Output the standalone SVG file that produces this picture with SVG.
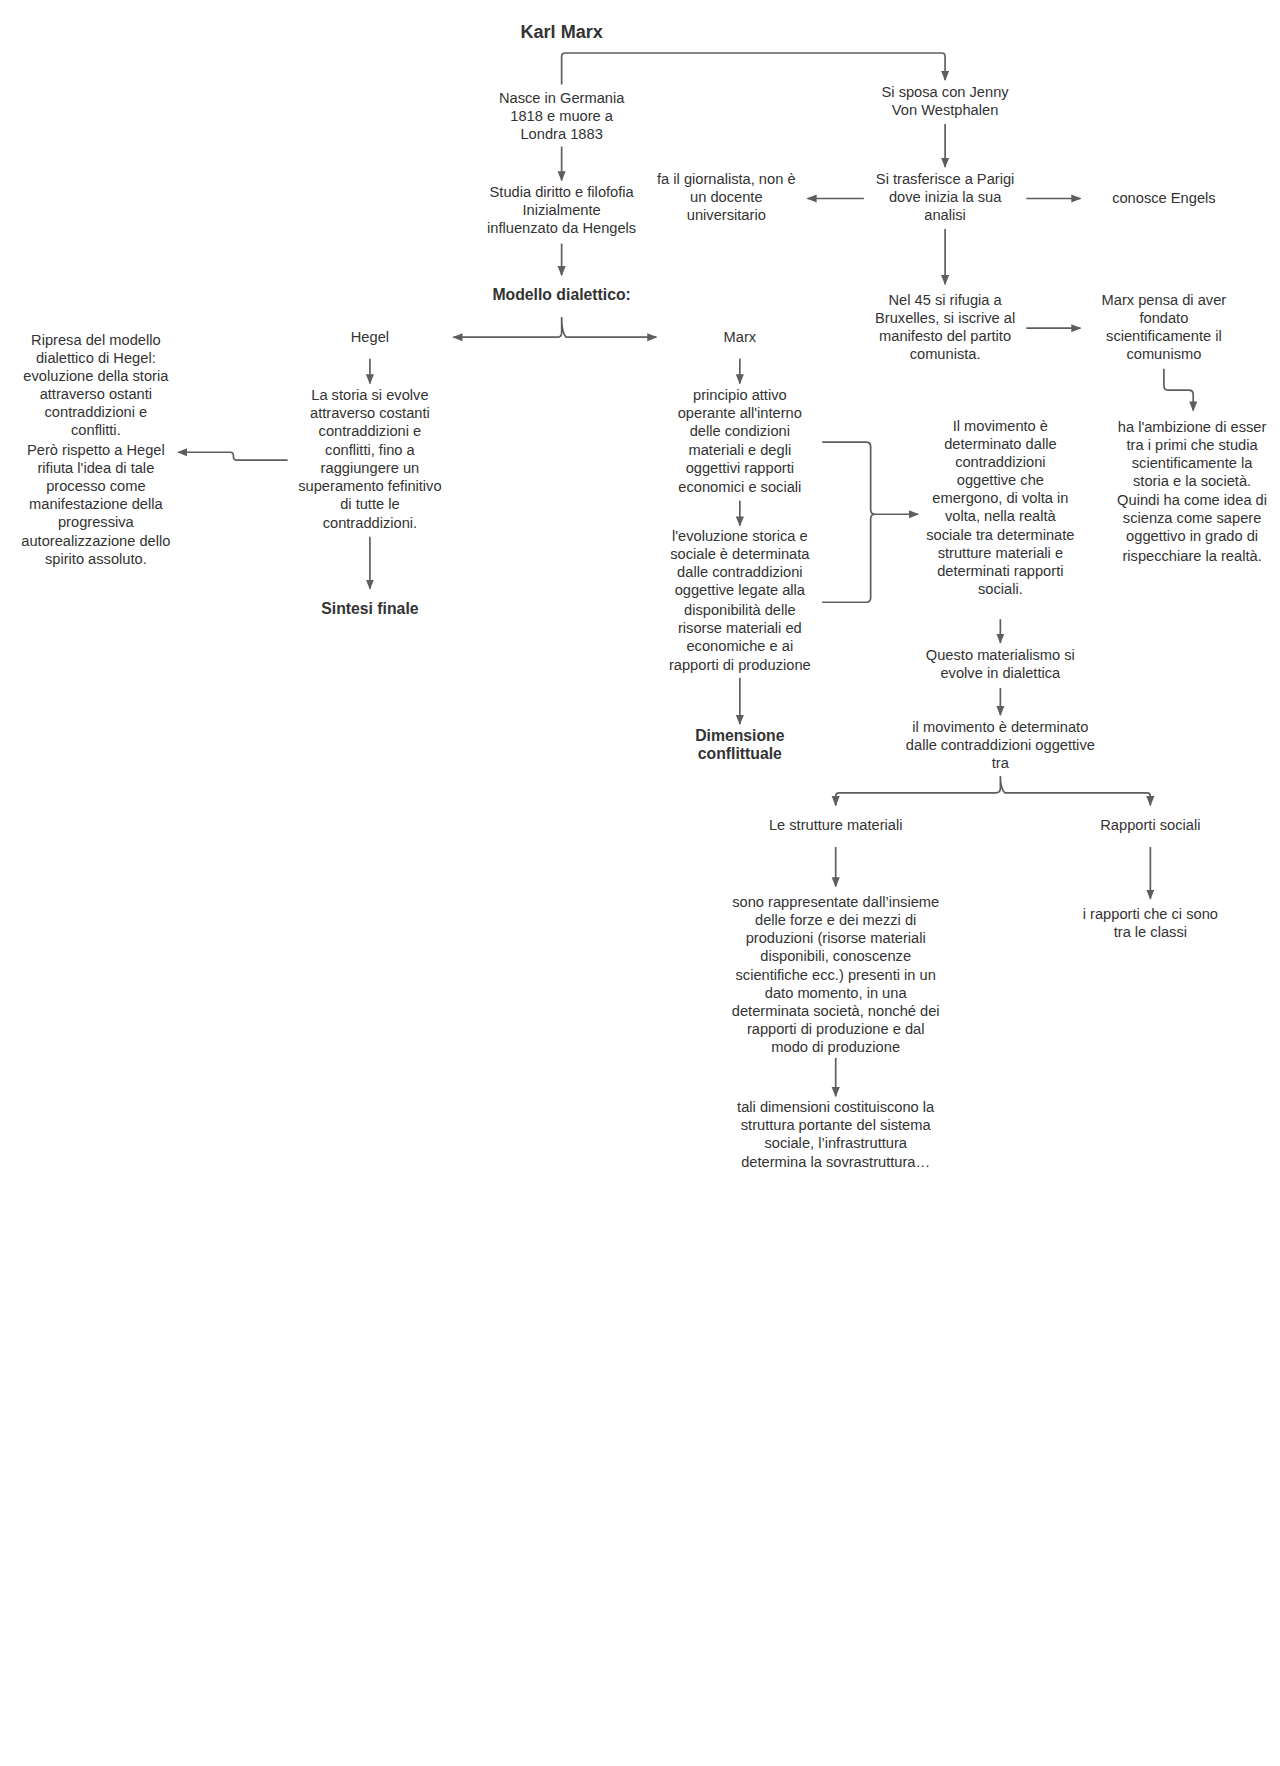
<svg xmlns="http://www.w3.org/2000/svg" width="1280" height="1766" viewBox="0 0 1280 1766">
<style>
text{font-family:"Liberation Sans",Arial,sans-serif;font-size:13px;fill:#333;text-anchor:middle}
.b{font-weight:bold;font-size:14px}
.t{font-weight:bold;font-size:16px}
#connectors path{fill:none;stroke:#5e5e5e;stroke-width:1.5}
</style>
<defs>
<marker id="a" viewBox="0 0 10 10" refX="9" refY="5" markerWidth="9" markerHeight="9" markerUnits="userSpaceOnUse" orient="auto-start-reverse"><path d="M0,1 L10,5 L0,9 z" fill="#5e5e5e"/></marker>
</defs>
<rect width="1280" height="1766" fill="#fff"/>
<g transform="scale(1.1278)">
<g id="connectors">
<path d="M498,75 V50 Q498,47 501,47 H835 Q838,47 838,50 V71" marker-end="url(#a)"/>
<path d="M498,130 V160" marker-end="url(#a)"/>
<path d="M838,110 V148" marker-end="url(#a)"/>
<path d="M766,176 H716" marker-end="url(#a)"/>
<path d="M910,176 H958" marker-end="url(#a)"/>
<path d="M498,216 V244" marker-end="url(#a)"/>
<path d="M838,203 V252" marker-end="url(#a)"/>
<path d="M910,291 H958" marker-end="url(#a)"/>
<path d="M402,299 H494 Q498,299 498,295 V281 Q498,295 502,299 H582" marker-start="url(#a)" marker-end="url(#a)"/>
<path d="M328,318 V340" marker-end="url(#a)"/>
<path d="M656,318 V340" marker-end="url(#a)"/>
<path d="M255,408 H210 Q207,408 207,405 V404 Q207,401 204,401 H158" marker-end="url(#a)"/>
<path d="M328,476 V522" marker-end="url(#a)"/>
<path d="M656,444 V466" marker-end="url(#a)"/>
<path d="M656,601 V642" marker-end="url(#a)"/>
<path d="M729,392 H768 Q772,392 772,396 V452 Q772,456 776,456"/>
<path d="M729,534 H768 Q772,534 772,530 V460 Q772,456 776,456 H814" marker-end="url(#a)"/>
<path d="M1032,327 V342 Q1032,346 1036,346 H1054 Q1058,346 1058,350 V364" marker-end="url(#a)"/>
<path d="M887,549 V570" marker-end="url(#a)"/>
<path d="M887,610 V634" marker-end="url(#a)"/>
<path d="M741,714 V706 Q741,703 744,703 H883 Q887,703 887,699 V688 Q887,699 891,703 H1017 Q1020,703 1020,706 V714" marker-end="url(#a)"/>
<path d="M741,714 V706" marker-start="url(#a)"/>
<path d="M741,751 V786" marker-end="url(#a)"/>
<path d="M1020,751 V797" marker-end="url(#a)"/>
<path d="M741,938 V972" marker-end="url(#a)"/>
</g>
<g id="n-karl"><text class="t" x="498" y="34">Karl Marx</text></g>
<g id="n-nasce"><text x="498" y="91">Nasce in Germania</text><text x="498" y="107">1818 e muore a</text><text x="498" y="123">Londra 1883</text></g>
<g id="n-sposa"><text x="838" y="86">Si sposa con Jenny</text><text x="838" y="102">Von Westphalen</text></g>
<g id="n-studia"><text x="498" y="175">Studia diritto e filofofia</text><text x="498" y="191">Inizialmente</text><text x="498" y="207">influenzato da Hengels</text></g>
<g id="n-giorn"><text x="644" y="163">fa il giornalista, non è</text><text x="644" y="179">un docente</text><text x="644" y="195">universitario</text></g>
<g id="n-parigi"><text x="838" y="163">Si trasferisce a Parigi</text><text x="838" y="179">dove inizia la sua</text><text x="838" y="195">analisi</text></g>
<g id="n-engels"><text x="1032" y="180">conosce Engels</text></g>
<g id="n-modello"><text class="b" x="498" y="266">Modello dialettico:</text></g>
<g id="n-nel45"><text x="838" y="270">Nel 45 si rifugia a</text><text x="838" y="286">Bruxelles, si iscrive al</text><text x="838" y="302">manifesto del partito</text><text x="838" y="318">comunista.</text></g>
<g id="n-pensa"><text x="1032" y="270">Marx pensa di aver</text><text x="1032" y="286">fondato</text><text x="1032" y="302">scientificamente il</text><text x="1032" y="318">comunismo</text></g>
<g id="n-hegel"><text x="328" y="303">Hegel</text></g>
<g id="n-marx"><text x="656" y="303">Marx</text></g>
<g id="n-ripresa"><text x="85" y="306">Ripresa del modello</text><text x="85" y="322">dialettico di Hegel:</text><text x="85" y="338">evoluzione della storia</text><text x="85" y="354">attraverso ostanti</text><text x="85" y="370">contraddizioni e</text><text x="85" y="386">conflitti.</text><text x="85" y="403">Però rispetto a Hegel</text><text x="85" y="419">rifiuta l'idea di tale</text><text x="85" y="435">processo come</text><text x="85" y="451">manifestazione della</text><text x="85" y="467">progressiva</text><text x="85" y="484">autorealizzazione dello</text><text x="85" y="500">spirito assoluto.</text></g>
<g id="n-storia"><text x="328" y="355">La storia si evolve</text><text x="328" y="371">attraverso costanti</text><text x="328" y="387">contraddizioni e</text><text x="328" y="403">conflitti, fino a</text><text x="328" y="419">raggiungere un</text><text x="328" y="435">superamento fefinitivo</text><text x="328" y="451">di tutte le</text><text x="328" y="468">contraddizioni.</text></g>
<g id="n-sintesi"><text class="b" x="328" y="544">Sintesi finale</text></g>
<g id="n-principio"><text x="656" y="355">principio attivo</text><text x="656" y="371">operante all'interno</text><text x="656" y="387">delle condizioni</text><text x="656" y="403">materiali e degli</text><text x="656" y="419">oggettivi rapporti</text><text x="656" y="436">economici e sociali</text></g>
<g id="n-evol"><text x="656" y="480">l'evoluzione storica e</text><text x="656" y="496">sociale è determinata</text><text x="656" y="512">dalle contraddizioni</text><text x="656" y="528">oggettive legate alla</text><text x="656" y="545">disponibilità delle</text><text x="656" y="561">risorse materiali ed</text><text x="656" y="577">economiche e ai</text><text x="656" y="594">rapporti di produzione</text></g>
<g id="n-dim"><text class="b" x="656" y="657">Dimensione</text><text class="b" x="656" y="673">conflittuale</text></g>
<g id="n-movimento"><text x="887" y="382">Il movimento è</text><text x="887" y="398">determinato dalle</text><text x="887" y="414">contraddizioni</text><text x="887" y="430">oggettive che</text><text x="887" y="446">emergono, di volta in</text><text x="887" y="462">volta, nella realtà</text><text x="887" y="479">sociale tra determinate</text><text x="887" y="495">strutture materiali e</text><text x="887" y="511">determinati rapporti</text><text x="887" y="527">sociali.</text></g>
<g id="n-ambizione"><text x="1057" y="383">ha l'ambizione di esser</text><text x="1057" y="399">tra i primi che studia</text><text x="1057" y="415">scientificamente la</text><text x="1057" y="431">storia e la società.</text><text x="1057" y="448">Quindi ha come idea di</text><text x="1057" y="464">scienza come sapere</text><text x="1057" y="480">oggettivo in grado di</text><text x="1057" y="497">rispecchiare la realtà.</text></g>
<g id="n-questo"><text x="887" y="585">Questo materialismo si</text><text x="887" y="601">evolve in dialettica</text></g>
<g id="n-ilmov"><text x="887" y="649">il movimento è determinato</text><text x="887" y="665">dalle contraddizioni oggettive</text><text x="887" y="681">tra</text></g>
<g id="n-strutture"><text x="741" y="736">Le strutture materiali</text></g>
<g id="n-rapporti"><text x="1020" y="736">Rapporti sociali</text></g>
<g id="n-sono"><text x="741" y="804">sono rappresentate dall’insieme</text><text x="741" y="820">delle forze e dei mezzi di</text><text x="741" y="836">produzioni (risorse materiali</text><text x="741" y="852">disponibili, conoscenze</text><text x="741" y="869">scientifiche ecc.) presenti in un</text><text x="741" y="885">dato momento, in una</text><text x="741" y="901">determinata società, nonché dei</text><text x="741" y="917">rapporti di produzione e dal</text><text x="741" y="933">modo di produzione</text></g>
<g id="n-classi"><text x="1020" y="815">i rapporti che ci sono</text><text x="1020" y="831">tra le classi</text></g>
<g id="n-tali"><text x="741" y="986">tali dimensioni costituiscono la</text><text x="741" y="1002">struttura portante del sistema</text><text x="741" y="1018">sociale, l’infrastruttura</text><text x="741" y="1035">determina la sovrastruttura…</text></g>
</g>
</svg>
